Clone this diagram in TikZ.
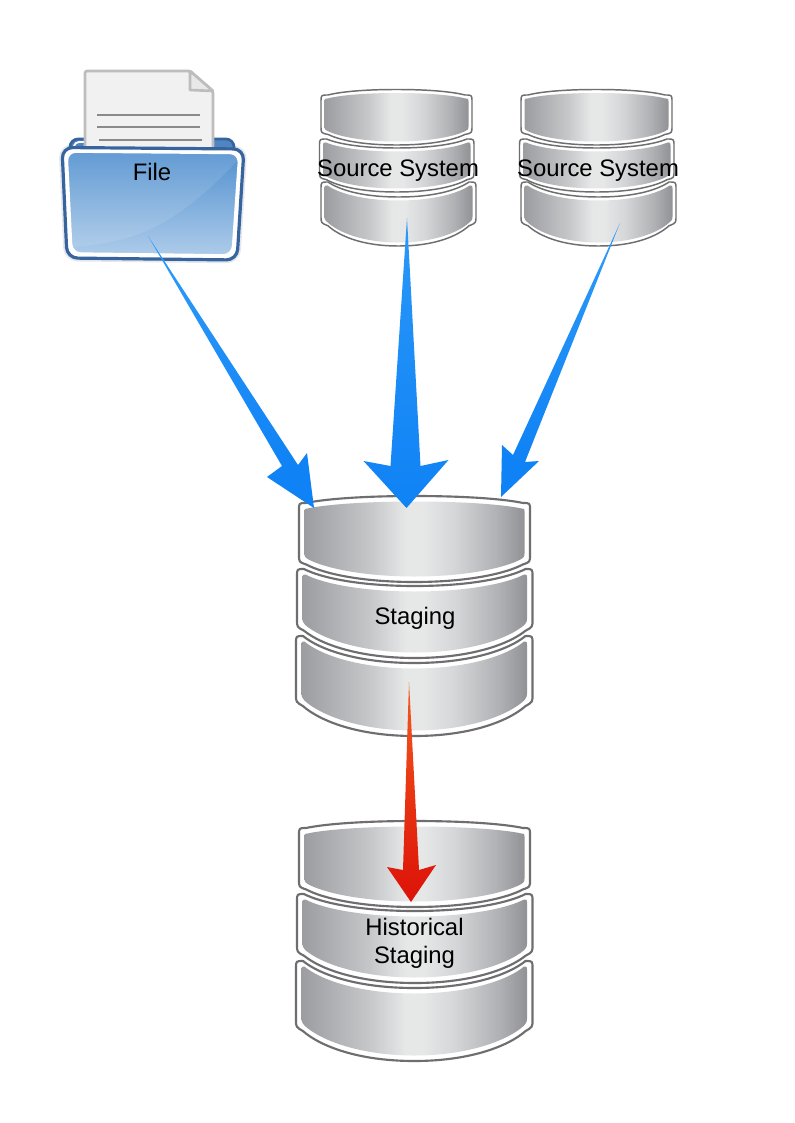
\documentclass[tikz,border=0pt]{standalone}
\usepackage{fontspec}
\setmainfont{Liberation Sans}
\usetikzlibrary{calc}
\definecolor{dbA}{HTML}{9C9DA1}
\definecolor{dbB}{HTML}{C6C7C9}
\definecolor{dbC}{HTML}{E6E7E7}
\definecolor{dbD}{HTML}{D4D6D8}
\definecolor{dbE}{HTML}{AEB0B3}
\definecolor{dbF}{HTML}{919296}
\definecolor{dbline}{HTML}{6E6E70}
\definecolor{fdark}{HTML}{38649E}
\definecolor{ftop}{HTML}{5190CF}
\definecolor{fbot}{HTML}{AECCEA}
\definecolor{fback}{HTML}{4F86C2}
\definecolor{fshadow}{HTML}{E4E8EE}
\definecolor{pborder}{HTML}{BDBDBD}
\definecolor{ppaper}{HTML}{F1F1F1}
\definecolor{pfold}{HTML}{E8E8E8}
\definecolor{pline}{HTML}{8A8A8A}
\definecolor{arrblueS}{HTML}{2A98F8}
\definecolor{arrblueT}{HTML}{0F82F5}
\definecolor{arrredS}{HTML}{F4591E}
\definecolor{arrredT}{HTML}{DC1208}
\pgfdeclarehorizontalshading{dbgray}{100bp}{%
  color(0bp)=(dbA); color(25bp)=(dbA); color(40bp)=(dbB); color(48bp)=(dbC); color(52bp)=(dbC);
  color(59bp)=(dbD); color(69bp)=(dbE); color(75bp)=(dbF); color(100bp)=(dbF)}
\tikzset{
  x=0.75pt,y=-0.75pt,
  label text/.style={inner sep=0pt,align=center,text=black,
    font=\fontsize{17.9}{21}\selectfont},
  disk outer/.style={draw=dbline,line width=\dblw,fill=white,line join=round},
  blue arrow/.style={top color=arrblueS,bottom color=arrblueT},
  red arrow/.style={top color=arrredS,bottom color=arrredT},
}
\newcommand{\dblw}{1.5pt}
% options, x0, x1, top corner y, top middle y, bottom corner y, bottom middle y, corner radius
\newcommand{\dbshape}[8]{%
  \pgfmathsetmacro\dbxa{#2}%
  \pgfmathsetmacro\dbxb{#3}%
  \pgfmathsetmacro\dbtc{#4}%
  \pgfmathsetmacro\dbtm{#5}%
  \pgfmathsetmacro\dbbc{#6}%
  \pgfmathsetmacro\dbbm{#7}%
  \pgfmathsetmacro\dbr{#8}%
  \pgfmathsetmacro\dbxm{(\dbxa+\dbxb)/2}%
  \pgfmathsetmacro\dbw{\dbxb-\dbxa}%
  \pgfmathsetmacro\dbtA{\dbxa+\dbr+.07*\dbw}%
  \pgfmathsetmacro\dbtB{\dbxm-.24*\dbw}%
  \pgfmathsetmacro\dbtC{\dbxm+.24*\dbw}%
  \pgfmathsetmacro\dbtD{\dbxb-\dbr-.07*\dbw}%
  \pgfmathsetmacro\dbyT{\dbtc+.5*(\dbtm-\dbtc)}%
  \pgfmathsetmacro\dbyB{\dbbc+.55*(\dbbm-\dbbc)}%
  \pgfmathsetmacro\dbyC{\dbbc+.12*(\dbbm-\dbbc)}%
  \path[#1] (\dbxa+\dbr,\dbtc)
    .. controls (\dbtA,\dbyT) and (\dbtB,\dbtm) .. (\dbxm,\dbtm)
    .. controls (\dbtC,\dbtm) and (\dbtD,\dbyT) .. (\dbxb-\dbr,\dbtc)
    .. controls (\dbxb,\dbtc) .. (\dbxb,\dbtc+\dbr)
    -- (\dbxb,\dbbc-\dbr)
    .. controls (\dbxb,\dbbc) .. (\dbxb-\dbr,\dbyC)
    .. controls (\dbtD,\dbyB) and (\dbtC,\dbbm) .. (\dbxm,\dbbm)
    .. controls (\dbtB,\dbbm) and (\dbtA,\dbyB) .. (\dbxa+\dbr,\dbyC)
    .. controls (\dbxa,\dbbc) .. (\dbxa,\dbbc-\dbr)
    -- (\dbxa,\dbtc+\dbr)
    .. controls (\dbxa,\dbtc) .. cycle;%
}
% x0, x1, tc, tm, bc, bm, inset
\newcommand{\dbdisk}[7]{%
  \dbshape{disk outer}{#1}{#2}{#3}{#4}{#5}{#6}{7}%
  \dbshape{shade,shading=dbgray}{(#1)+#7}{(#2)-#7}{(#3)+#7}{(#4)+#7}{(#5)-#7}{(#6)-#7}{3}%
}
\newcommand{\dbbig}[1]{%
  \renewcommand{\dblw}{1.6pt}%
  \dbdisk{296}{532.5}{636+#1}{663+#1}{702+#1}{736+#1}{5.5}%
  \dbdisk{297}{532.5}{569+#1}{586+#1}{627+#1}{658+#1}{5.5}%
  \dbdisk{299}{530}{503+#1}{496+#1}{562+#1}{582+#1}{5.5}%
}
\newcommand{\dbsmall}[1]{%
  \renewcommand{\dblw}{1.1pt}%
  \dbdisk{321+#1}{476+#1}{182}{197}{223}{246}{3.5}%
  \dbdisk{319.5+#1}{474+#1}{139}{148}{178}{192}{3.5}%
  \dbdisk{321+#1}{472+#1}{95}{89.5}{133}{145}{3.5}%
}
\begin{document}
\begin{tikzpicture}
\useasboundingbox (0,0) rectangle (794,1123);
\fill[white] (0,0) rectangle (794,1123);
% --- folder, back part
\draw[fshadow,line width=5pt,rounded corners=8pt]
  (62,147.5) -- (244,149) -- (237,260) -- (67,258) -- cycle;
\draw[fdark,line width=2pt,fill=fback,rounded corners=6pt]
  (70,160) -- (70,139) -- (234,139) -- (234,160) -- cycle;
\draw[white,line width=1.4pt,rounded corners=3pt] (73,150) -- (75,142) -- (86,142);
% --- paper
\draw[pborder,line width=2pt,fill=ppaper,line join=round,rounded corners=1.5pt]
  (85,150) -- (85,71) -- (190,71) -- (213,91) -- (213,150) -- cycle;
\draw[pborder,line width=2pt,fill=pfold,line join=round]
  (190,71) -- (190,90) -- (213,91) -- cycle;
\draw[pline,line width=2.2pt] (97,115) -- (200,115);
\draw[pline,line width=2.2pt] (97,127) -- (200,127);
\draw[pline,line width=2.2pt] (99,140) -- (202,140);
% --- folder, front part
\draw[fdark,line width=2.4pt,fill=white,rounded corners=8pt,line join=round]
  (62,147.5) -- (244,149) -- (237,260) -- (67,258) -- cycle;
\begin{scope}
  \path[clip,rounded corners=7pt]
    (66.5,151.5) -- (239.5,153) -- (232.5,255.5) -- (71.5,253.5) -- cycle;
  \shade[top color=ftop,bottom color=fbot] (60,151) rectangle (245,256);
  \fill[white,opacity=.10] (60,151) -- (245,151) -- (238,160)
    .. controls (205,195) and (170,225) .. (130,237)
    .. controls (110,243) and (90,246) .. (60,248) -- cycle;
\end{scope}
\draw[white,line width=1.9pt,rounded corners=7pt,line join=round]
  (66.5,151.5) -- (239.5,153) -- (232.5,255.5) -- (71.5,253.5) -- cycle;
% --- databases
\dbsmall{0}
\dbsmall{200}
\dbbig{0}
\dbbig{325}
% --- labels
\node[label text] (file) at (152,172) {File};
\node[label text] (srcA) at (398,170.5) {Source System};
\node[label text] (srcB) at (598,170.5) {Source System};
\node[label text] (staging) at (415,618) {Staging};
\node[label text] (hist) at (414.5,943.5) {Historical\\Staging};
% --- connector ends
\coordinate (e1s) at ($(file)+(-4,64)$);
\coordinate (e1t) at ($(staging)+(-101,-110)$);
\coordinate (e2s) at ($(srcA)+(9,47.5)$);
\coordinate (e2t) at ($(staging)+(-8.5,-110)$);
\coordinate (e3s) at ($(srcB)+(22,52.5)$);
\coordinate (e3t) at ($(staging)+(86,-121)$);
\coordinate (e4s) at ($(staging)+(-6,64)$);
\coordinate (e4t) at ($(hist)+(-3.5,-41.5)$);
% --- tapered connectors
\shade[blue arrow,shading angle=31] (e1s) -- ($(e1t)+(-32,-42)$) -- ($(e1t)+(-47,-31)$)
  -- (e1t) -- ($(e1t)+(-7,-55)$) -- ($(e1t)+(-16,-43)$) -- cycle;
\shade[blue arrow] (e2s) -- ($(e2t)+(-16,-42)$) -- ($(e2t)+(-43,-47)$)
  -- (e2t) -- ($(e2t)+(42,-48)$) -- ($(e2t)+(14,-42)$) -- cycle;
\shade[blue arrow,shading angle=-25] (e3s) -- ($(e3t)+(24,-35)$) -- ($(e3t)+(38,-36)$)
  -- (e3t) -- ($(e3t)+(1,-52)$) -- ($(e3t)+(12,-42)$) -- cycle;
\shade[red arrow] (e4s) -- ($(e4t)+(-8,-32)$) -- ($(e4t)+(-24,-35)$)
  -- (e4t) -- ($(e4t)+(25,-37)$) -- ($(e4t)+(8,-32)$) -- cycle;
\end{tikzpicture}
\end{document}
